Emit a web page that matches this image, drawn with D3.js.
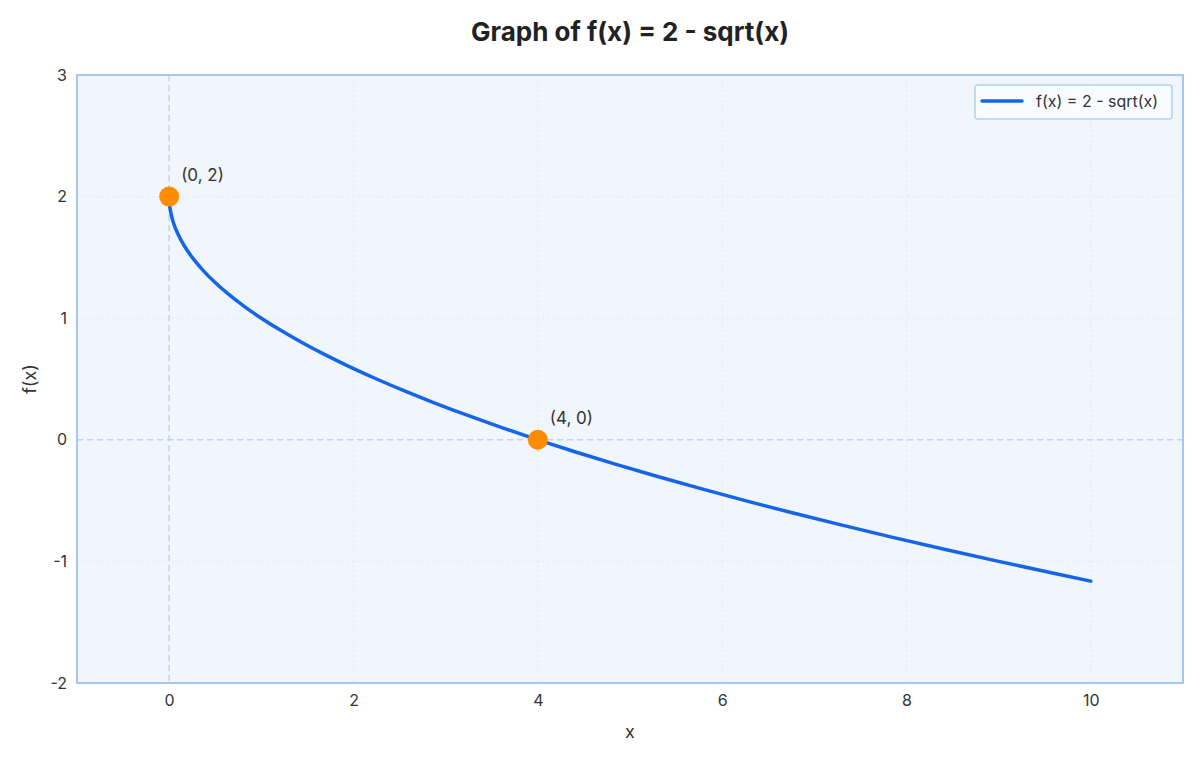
<!DOCTYPE html>
<html><head><meta charset="utf-8">
<script src="https://cdn.jsdelivr.net/npm/d3@7"></script>
<style>body{margin:0;background:#fff;}svg{display:block;font-family:Inter,"Noto Sans",sans-serif;}</style>
</head><body><svg id="c" width="1200" height="760"></svg>
<script>
const titleText = "Graph of f(x) = 2 - sqrt(x)";
const seriesName = "f(x) = 2 - sqrt(x)";
const curveX = [0, 0.0025, 0.01, 0.04, 0.09, 0.16, 0.25, 0.36, 0.49, 0.64, 0.81, 1, 1.21, 1.44, 1.69, 1.96, 2.25, 2.56, 2.89, 3.24, 3.61, 4, 4.41, 4.84, 5.29, 5.76, 6.25, 6.76, 7.29, 7.84, 8.41, 9, 9.61, 10];
const curveY = [2, 1.95, 1.9, 1.8, 1.7, 1.6, 1.5, 1.4, 1.3, 1.2, 1.1, 1.0, 0.9, 0.8, 0.7, 0.6, 0.5, 0.4, 0.3, 0.2, 0.1, 0, -0.1, -0.2, -0.3, -0.4, -0.5, -0.6, -0.7, -0.8, -0.9, -1.0, -1.1, -1.1623];
const pointX = [0, 4];
const pointY = [2, 0];
const pointLabels = ["(0, 2)", "(4, 0)"];
const xTicks = [0, 2, 4, 6, 8, 10];
const yTicks = [-2, -1, 0, 1, 2, 3];
const xDomain = [-1, 11];
const yDomain = [-2, 3];

const FONT = "Inter,'Noto Sans',sans-serif";
const svg = d3.select("#c");
const L = 77, T = 75, R = 1183, B = 683;
const x = d3.scaleLinear().domain(xDomain).range([L, R]);
const y = d3.scaleLinear().domain(yDomain).range([B, T]);
const fmt = d => String(d);

svg.append("text").attr("x", 630).attr("y", 41).attr("text-anchor", "middle")
  .attr("font-size", 26).attr("font-weight", 700).attr("fill", "#222").text(titleText);

svg.append("rect").attr("x", L).attr("y", T).attr("width", R - L).attr("height", B - T)
  .attr("fill", "#f1f6fd");

// grid
const g = svg.append("g");
g.selectAll(".gx").data(xTicks).join("line")
  .attr("x1", d => x(d)).attr("x2", d => x(d)).attr("y1", T).attr("y2", B)
  .attr("stroke", "#e0e8f3").attr("stroke-width", 1).attr("stroke-dasharray", "2,3");
g.selectAll(".gy").data(yTicks).join("line")
  .attr("y1", d => y(d)).attr("y2", d => y(d)).attr("x1", L).attr("x2", R)
  .attr("stroke", "#e0e8f3").attr("stroke-width", 1).attr("stroke-dasharray", "2,3");

// reference lines
svg.append("line").attr("x1", x(0)).attr("x2", x(0)).attr("y1", T).attr("y2", B)
  .attr("stroke", "#bcd5f5").attr("stroke-width", 1.5).attr("stroke-dasharray", "6,4");
svg.append("line").attr("x1", L).attr("x2", R).attr("y1", y(0)).attr("y2", y(0))
  .attr("stroke", "#bcd5f5").attr("stroke-width", 1.5).attr("stroke-dasharray", "6,4");

// axes (labels only)
const xa = svg.append("g").attr("transform", `translate(0,${B})`)
  .call(d3.axisBottom(x).tickValues(xTicks).tickSize(0).tickPadding(12).tickFormat(fmt));
const ya = svg.append("g").attr("transform", `translate(${L},0)`)
  .call(d3.axisLeft(y).tickValues(yTicks).tickSize(0).tickPadding(10).tickFormat(fmt));
[xa, ya].forEach(a => {
  a.select(".domain").remove();
  a.selectAll("text").attr("font-size", 16).attr("fill", "#333").attr("font-family", FONT);
});

// border
svg.append("rect").attr("x", L).attr("y", T).attr("width", R - L).attr("height", B - T)
  .attr("fill", "none").attr("stroke", "#a6c6f5").attr("stroke-width", 2);

// curve
const data = curveX.map((d, i) => [d, curveY[i]]);
svg.append("path").datum(data)
  .attr("d", d3.line().x(d => x(d[0])).y(d => y(d[1])).curve(d3.curveMonotoneY))
  .attr("fill", "none").attr("stroke", "#1565e6").attr("stroke-width", 3.5)
  .attr("stroke-linecap", "round").attr("stroke-linejoin", "round");

// points
const pts = pointX.map((d, i) => ({x: d, y: pointY[i], l: pointLabels[i]}));
svg.selectAll(".pt").data(pts).join("circle")
  .attr("cx", d => x(d.x)).attr("cy", d => y(d.y)).attr("r", 10).attr("fill", "#ff8c00");
svg.selectAll(".pl").data(pts).join("text")
  .attr("x", d => x(d.x) + 12).attr("y", d => y(d.y) - 16)
  .attr("font-size", 17).attr("fill", "#333").text(d => d.l);

// axis titles
svg.append("text").attr("x", x(5)).attr("y", 738).attr("text-anchor", "middle")
  .attr("font-size", 18).attr("fill", "#333").text("x");
svg.append("text").attr("transform", `translate(36,${(T + B) / 2}) rotate(-90)`)
  .attr("text-anchor", "middle").attr("font-size", 18).attr("fill", "#333").text("f(x)");

// legend
const lg = svg.append("g");
lg.append("rect").attr("x", 975).attr("y", 85).attr("width", 197).attr("height", 34).attr("rx", 3)
  .attr("fill", "#f8fbff").attr("stroke", "#b3cff5").attr("stroke-width", 1.5);
lg.append("line").attr("x1", 982).attr("x2", 1022).attr("y1", 101).attr("y2", 101)
  .attr("stroke", "#1565e6").attr("stroke-width", 3.5).attr("stroke-linecap", "round");
lg.append("text").attr("x", 1036).attr("y", 107).attr("font-size", 16).attr("fill", "#333").text(seriesName);
</script></body></html>
